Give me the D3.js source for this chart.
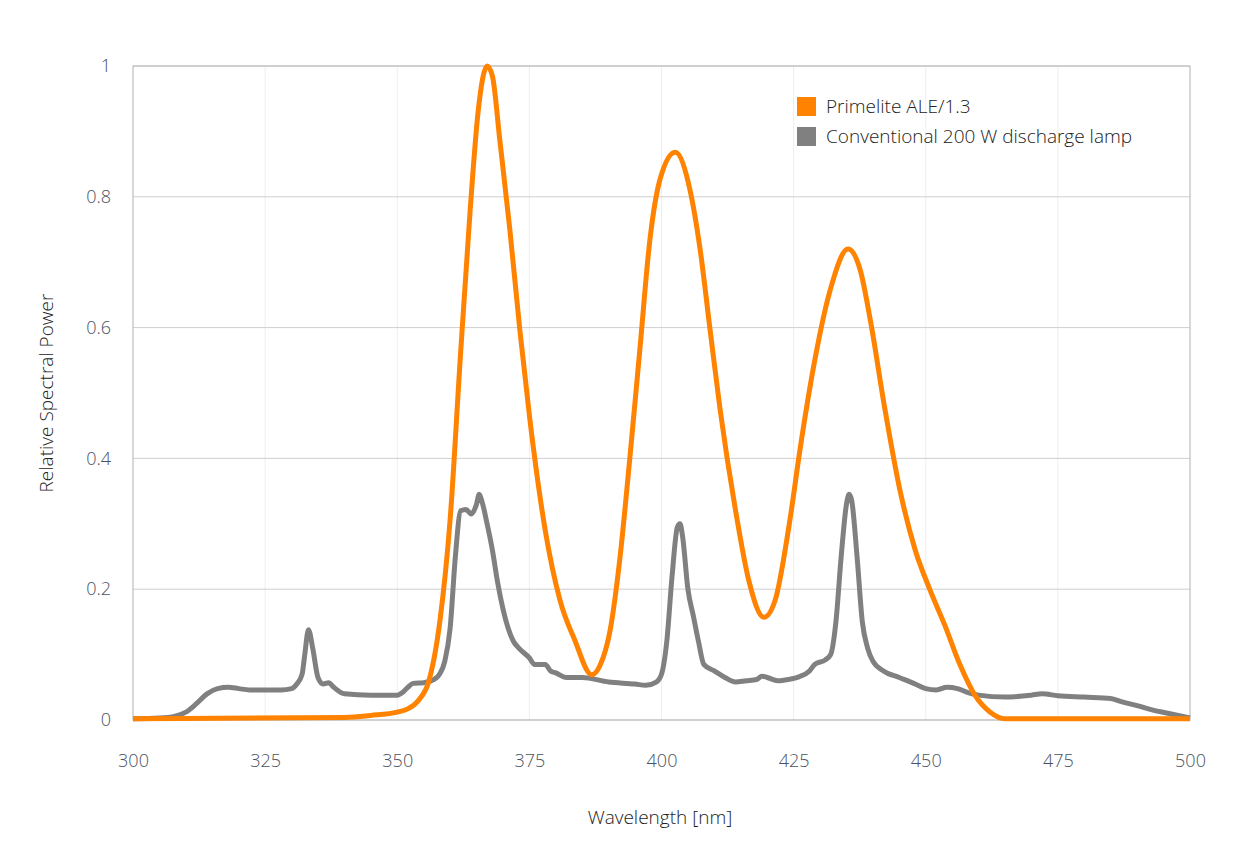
<!DOCTYPE html><html><head><meta charset="utf-8"><script src="https://cdn.jsdelivr.net/npm/d3@7"></script>
<style>body{margin:0;background:#fff}svg{font-family:"Open Sans",sans-serif;font-weight:300}</style></head><body><svg width="1240" height="860"></svg><script>
const seriesNames=["Primelite ALE/1.3","Conventional 200 W discharge lamp"];
const xTicks=[300,325,350,375,400,425,450,475,500];
const yTicks=[0,0.2,0.4,0.6,0.8,1];
const primeliteX=[300,340,345,350,352,354,356,358.1,360,361.9,363.8,365.3,367,368,369.4,371.3,373.2,375.1,378,380.8,383.6,386.8,388.4,390.3,392.1,394,395.9,397.8,399.7,402.6,405.4,407.3,409.2,411.1,414,416.5,419.4,421.5,424.3,426.2,429,431.9,435.3,437.6,439.5,442.3,445.1,448,450.8,453.6,456.5,459.3,462.2,465,500];
const primeliteY=[0.002,0.004,0.007,0.012,0.017,0.03,0.06,0.153,0.306,0.55,0.78,0.93,1.0,0.985,0.887,0.75,0.596,0.459,0.29,0.183,0.122,0.069,0.084,0.138,0.245,0.4,0.566,0.734,0.826,0.868,0.81,0.72,0.596,0.474,0.321,0.214,0.157,0.183,0.306,0.413,0.55,0.657,0.72,0.688,0.612,0.474,0.352,0.26,0.199,0.145,0.084,0.038,0.012,0.002,0.002];
const lampX=[300,305,308,310,312,314,316,318,320,322,328,330,331,332,332.5,333.2,334,335,336,337,338,340,345,350,351,352,353,355,357,358,359,360,361,362,363,364,365,365.5,366,367,368,369,370,371,372,373,375,376,378,379,380,382,385,390,395,397,399,400,401,402,403,403.5,404,405,406,407,408,410,412,414,416,418,419,420,422,424,426,428,429,431,432,433,434,435,435.5,436,437,438,439,440,442,445,448,450,452,454,456,458,460,465,470,472,475,480,485,487,490,493,496,500];
const lampY=[0.002,0.003,0.006,0.012,0.025,0.04,0.048,0.05,0.048,0.046,0.046,0.048,0.055,0.07,0.1,0.138,0.11,0.065,0.055,0.057,0.05,0.04,0.038,0.038,0.042,0.05,0.056,0.057,0.062,0.07,0.09,0.14,0.25,0.32,0.322,0.315,0.33,0.345,0.335,0.3,0.26,0.21,0.17,0.14,0.12,0.11,0.095,0.085,0.085,0.075,0.072,0.065,0.065,0.058,0.055,0.053,0.058,0.07,0.12,0.22,0.295,0.3,0.28,0.2,0.16,0.12,0.085,0.075,0.065,0.058,0.06,0.062,0.067,0.065,0.06,0.062,0.066,0.075,0.085,0.092,0.1,0.15,0.25,0.33,0.345,0.335,0.25,0.15,0.11,0.09,0.075,0.065,0.055,0.048,0.046,0.05,0.048,0.042,0.038,0.035,0.038,0.04,0.037,0.035,0.033,0.028,0.022,0.015,0.01,0.003];
const colors=["#ff8200","#808080"];
const svg=d3.select("svg");
const x=d3.scaleLinear().domain([300,500]).range([133,1190]);
const y=d3.scaleLinear().domain([0,1]).range([720,66]);
const g=svg.append("g");
g.selectAll(".vg").data(xTicks).join("line").attr("x1",d=>x(d)).attr("x2",d=>x(d)).attr("y1",66).attr("y2",720).attr("stroke","#eeeeee");
g.selectAll(".hg").data(yTicks).join("line").attr("x1",133).attr("x2",1190).attr("y1",d=>y(d)).attr("y2",d=>y(d)).attr("stroke","#cfcfcf");
g.append("rect").attr("x",133).attr("y",66).attr("width",1057).attr("height",654).attr("fill","none").attr("stroke","#b8b8b8");
const xa=svg.append("g").attr("transform","translate(0,720)").call(d3.axisBottom(x).tickValues(xTicks).tickSize(0).tickPadding(34));
const ya=svg.append("g").attr("transform","translate(133,0)").call(d3.axisLeft(y).tickValues(yTicks).tickSize(0).tickPadding(22).tickFormat(d=>d===0?"0":d===1?"1":d3.format(".1f")(d)));
[xa,ya].forEach(a=>{a.select(".domain").remove();a.selectAll("text").attr("font-size",18).attr("fill","#4a5263").attr("font-family","Open Sans").attr("font-weight",300);});
const line=d3.line().curve(d3.curveMonotoneX);
const sets=[[lampX,lampY,1],[primeliteX,primeliteY,0]];
sets.forEach(([xs,ys,i])=>{
 svg.append("path").attr("d",line(xs.map((v,k)=>[x(v),y(ys[k])]))).attr("fill","none").attr("stroke",colors[i]).attr("stroke-width",5).attr("stroke-linejoin","round");
});
const lg=svg.append("g");
seriesNames.forEach((n,i)=>{
 lg.append("rect").attr("x",797).attr("y",97+i*30).attr("width",19).attr("height",19).attr("fill",colors[i]);
 lg.append("text").attr("x",826).attr("y",113+i*30).attr("font-size",19).attr("fill","#222").text(n);
});
svg.append("text").attr("x",660).attr("y",824).attr("text-anchor","middle").attr("font-size",19).attr("fill","#222").text("Wavelength [nm]");
svg.append("text").attr("transform","translate(53,393) rotate(-90)").attr("text-anchor","middle").attr("font-size",19).attr("fill","#222").text("Relative Spectral Power");
</script></body></html>
